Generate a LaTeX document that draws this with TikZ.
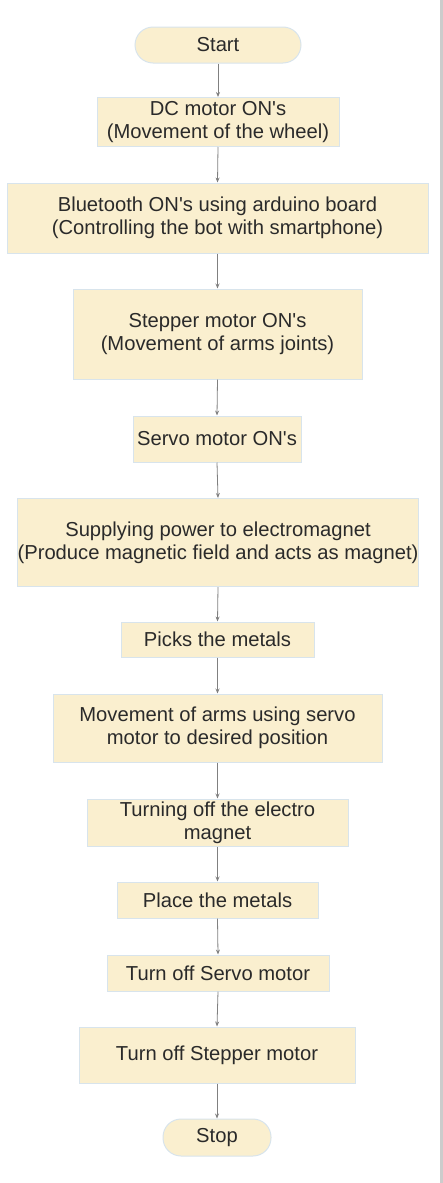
\documentclass[tikz,border=0pt]{standalone}
\usepackage{fontspec}
\setmainfont{Liberation Sans}
\usetikzlibrary{arrows.meta}
\definecolor{boxfill}{HTML}{FAEFCF}
\definecolor{boxline}{HTML}{D8E4EC}
\definecolor{txt}{HTML}{2A2A2A}
\definecolor{arr}{HTML}{808080}
\definecolor{edge}{HTML}{CCCCCC}
\newcommand{\apo}{\XeTeXglyph\XeTeXcharglyph"27\relax}
\tikzset{
  base/.style={fill=boxfill, draw=boxline, line width=1pt, text=txt, align=center,
    inner sep=0pt, font=\fontsize{20.2}{23}\selectfont},
  procbox/.style={base, rectangle},
  termbox/.style={base, rectangle, rounded corners=18pt},
  flow/.style={draw=arr, line width=0.8pt, -{Stealth[length=5pt,width=4pt]}}
}
\begin{document}
\begin{tikzpicture}[x=1pt,y=-1pt]
\useasboundingbox (0,0) rectangle (443,1183);
\fill[edge] (440,0) rectangle (443,1183);
\node[termbox, minimum width=166pt, minimum height=36pt] (start) at (218,45) {Start};
\node[procbox, minimum width=242pt, minimum height=49pt] (dc) at (218,122) {DC motor ON\apo s\\(Movement of the wheel)};
\node[procbox, minimum width=421pt, minimum height=70pt] (bt) at (217.5,218) {Bluetooth ON\apo s using arduino board\\(Controlling the bot with smartphone)};
\node[procbox, minimum width=289pt, minimum height=90pt] (step1) at (217.5,334) {Stepper motor ON\apo s\\(Movement of arms joints)};
\node[procbox, minimum width=168pt, minimum height=46pt] (servo) at (217,439) {Servo motor ON\apo s};
\node[procbox, minimum width=400pt, minimum height=88pt] (em) at (218,542.5) {Supplying power to electromagnet\\(Produce magnetic field and acts as magnet)};
\node[procbox, minimum width=193pt, minimum height=35pt] (picks) at (217.5,639.5) {Picks the metals};
\node[procbox, minimum width=329pt, minimum height=68pt] (move) at (217.5,728) {Movement of arms using servo\\motor to desired position};
\node[procbox, minimum width=261pt, minimum height=47pt] (off) at (217.5,822.5) {Turning off the electro\\magnet};
\node[procbox, minimum width=201pt, minimum height=36pt] (place) at (217.5,900) {Place the metals};
\node[procbox, minimum width=222pt, minimum height=36pt] (offservo) at (218,973) {Turn off Servo motor};
\node[procbox, minimum width=276pt, minimum height=56pt] (offstep) at (217,1055) {Turn off Stepper motor};
\node[termbox, minimum width=108pt, minimum height=37pt] (stop) at (217,1137.5) {Stop};
\foreach \a/\b in {start/dc, dc/bt, bt/step1, step1/servo, servo/em, em/picks, picks/move, move/off, off/place, place/offservo, offservo/offstep, offstep/stop}
  \draw[flow] (\a.south) -- (\b.north);
\end{tikzpicture}
\end{document}
